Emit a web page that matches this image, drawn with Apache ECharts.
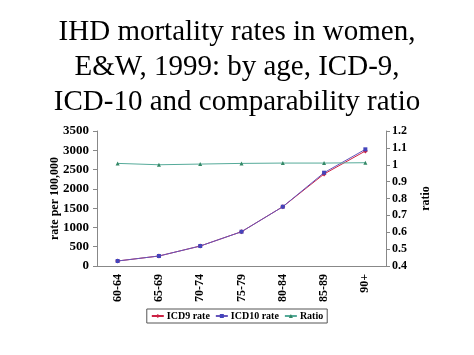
<!DOCTYPE html>
<html><head><meta charset="utf-8">
<script src="https://cdn.jsdelivr.net/npm/echarts@6/dist/echarts.min.js"></script>
<style>html,body{margin:0;padding:0;background:#fff}#c{width:474px;height:355px}</style>
</head><body><div id="c"></div>
<script>
var categories = ['60-64','65-69','70-74','75-79','80-84','85-89','90+'];
var icd9 = [130, 259, 518, 889, 1537, 2385, 2981];
var icd10 = [130, 259, 518, 889, 1537, 2419, 3025];
var ratio = [1.008, 1.0, 1.004, 1.008, 1.01, 1.01, 1.012];
var leftTicks = {min:0, max:3500, interval:500};
var rightTicks = {min:0.4, max:1.2, interval:0.1};

var serif = '"Liberation Serif","Times New Roman",serif';
var chart = echarts.init(document.getElementById('c'));
chart.setOption({
  animation:false,
  title:{text:'IHD mortality rates in women,\nE&W, 1999: by age, ICD-9,\nICD-10 and comparability ratio',
    left:'center', top:10, textStyle:{fontFamily:serif, fontSize:29, fontWeight:'normal', color:'#000', lineHeight:35}},
  grid:{left:97, right:88, top:131, bottom:89},
  legend:{top:309, left:'center', itemWidth:12, itemHeight:5, itemGap:5,
    borderColor:'#555', borderWidth:1, padding:[2,4],
    textStyle:{fontFamily:serif, fontSize:10, fontWeight:'bold', color:'#000', padding:[0,0,0,-2]},
    data:['ICD9 rate','ICD10 rate','Ratio']},
  xAxis:{type:'category', data:categories, boundaryGap:true,
    axisLine:{lineStyle:{color:'#888'}}, axisTick:{alignWithLabel:false, length:4, lineStyle:{color:'#888'}},
    axisLabel:{rotate:90, fontFamily:serif, fontSize:12, fontWeight:'bold', color:'#000', margin:8}},
  yAxis:[{type:'value', min:leftTicks.min, max:leftTicks.max, interval:leftTicks.interval,
    name:'rate per 100,000', nameLocation:'middle', nameGap:36, nameRotate:90, nameMoveOverlap:false,
    nameTextStyle:{fontFamily:serif, fontSize:12, fontWeight:'bold', color:'#000'},
    axisLine:{show:true, lineStyle:{color:'#888'}}, axisTick:{show:true, length:4, lineStyle:{color:'#888'}},
    splitLine:{show:false},
    axisLabel:{fontFamily:serif, fontSize:13, fontWeight:'bold', color:'#000', margin:8,
      formatter:function(v){return String(v);}}},
   {type:'value', min:rightTicks.min, max:rightTicks.max, interval:rightTicks.interval, position:'right',
    name:'ratio', nameLocation:'middle', nameGap:34, nameRotate:90,
    nameTextStyle:{fontFamily:serif, fontSize:12, fontWeight:'bold', color:'#000'},
    axisLine:{show:true, lineStyle:{color:'#888'}}, axisTick:{show:true, inside:false, length:4, lineStyle:{color:'#888'}},
    splitLine:{show:false},
    axisLabel:{fontFamily:serif, fontSize:12, fontWeight:'bold', color:'#000', margin:6,
      formatter:function(v){return String(Math.round(v*10)/10);}}}],
  series:[
    {name:'ICD9 rate', type:'line', data:icd9, yAxisIndex:0, symbol:'diamond', symbolSize:5,
      itemStyle:{color:'#cc2244'}, lineStyle:{color:'#cc2244', width:1}},
    {name:'ICD10 rate', type:'line', data:icd10, yAxisIndex:0, symbol:'rect', symbolSize:4,
      itemStyle:{color:'#4444bb'}, lineStyle:{color:'#6655bb', width:1}},
    {name:'Ratio', type:'line', data:ratio, yAxisIndex:1, symbol:'triangle', symbolSize:4,
      itemStyle:{color:'#338866'}, lineStyle:{color:'#55aa99', width:1}}
  ]
});
</script></body></html>
